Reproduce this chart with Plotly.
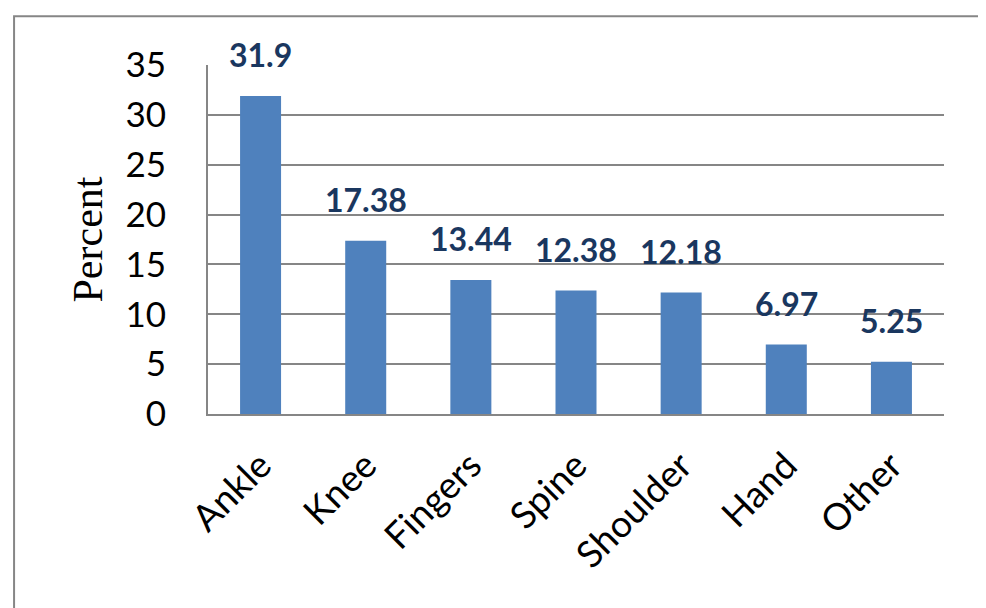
import plotly.graph_objects as go

# ─── Data ───
categories = ["Ankle", "Knee", "Fingers", "Spine", "Shoulder", "Hand", "Other"]
percent = [31.9, 17.38, 13.44, 12.38, 12.18, 6.97, 5.25]
y_ticks = [0, 5, 10, 15, 20, 25, 30, 35]

BAR_BLUE = "#4F81BD"
LABEL_NAVY = "#1A375F"
GRID_GRAY = "#868686"

fig = go.Figure(go.Bar(
    x=categories, y=percent,
    marker=dict(color=BAR_BLUE, line=dict(width=0)),
    hoverinfo="x+y",
))

# data labels sit a fixed distance above each bar (Excel "outside end" look)
for cat, val in zip(categories, percent):
    fig.add_annotation(
        x=cat, y=val, text=f"<b>{val:g}</b>",
        showarrow=False, yanchor="bottom", yshift=20,
        font=dict(family="Lato", size=32, color=LABEL_NAVY),
    )

# thin frame around the whole chart (runs off the right/bottom edge)
fig.add_shape(type="rect", xref="paper", yref="paper",
              x0=-0.2635, x1=1.2, y0=-1.0, y1=1.14,
              line=dict(color=GRID_GRAY, width=2), fillcolor="rgba(0,0,0,0)")

# page body adds an 8px offset, so margins are shifted to compensate
fig.update_layout(
    width=986, height=608,
    margin=dict(l=200, r=50, t=57, b=201.5),
    paper_bgcolor="white", plot_bgcolor="white",
    bargap=0.61,
    showlegend=False,
    font=dict(family="Lato", color="black"),
    xaxis=dict(
        tickangle=-45, tickfont=dict(family="Lato", size=37, color="black"),
        showline=True, linecolor=GRID_GRAY, linewidth=2,
        ticks="", ticklabelstandoff=13,
    ),
    yaxis=dict(
        range=[0, 35], tickvals=y_ticks,
        tickfont=dict(family="Lato", size=35, color="black"),
        showgrid=True, gridcolor=GRID_GRAY, gridwidth=2,
        showline=True, linecolor=GRID_GRAY, linewidth=2,
        zeroline=False, ticks="", ticklabelstandoff=33,
        title=dict(text="Percent", standoff=10,
                   font=dict(family="Liberation Serif", size=42, color="black")),
    ),
)

fig.write_html("out.html")
